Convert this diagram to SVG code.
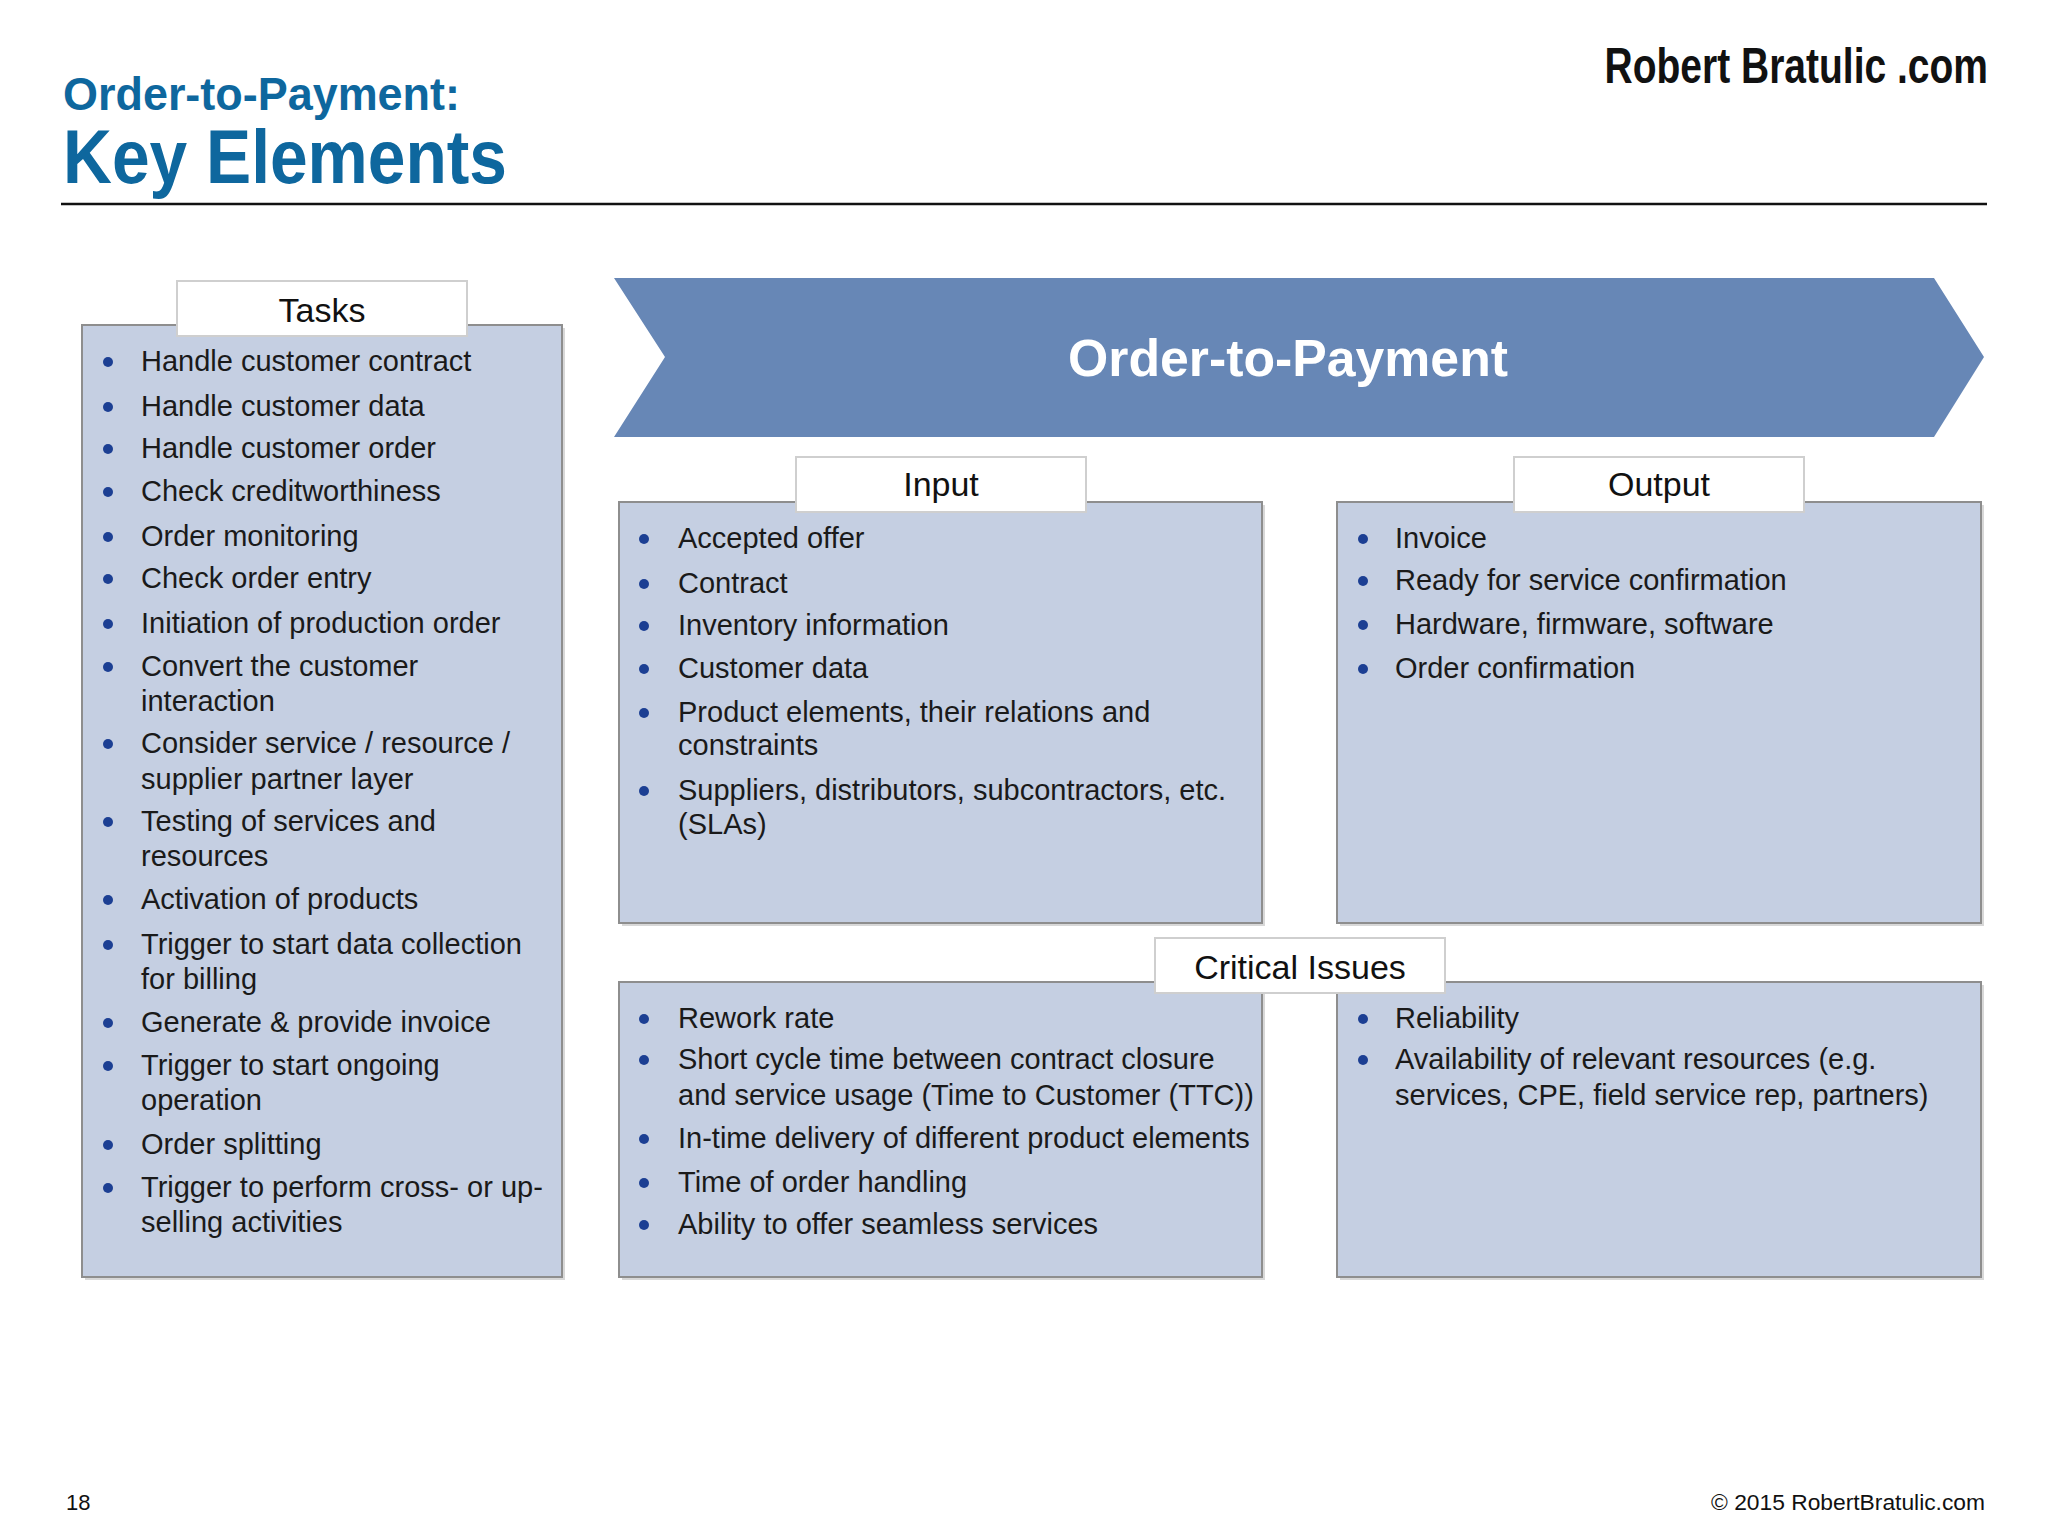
<svg xmlns="http://www.w3.org/2000/svg" width="2048" height="1536" viewBox="0 0 2048 1536">
<defs>
<style>
.t{font-family:"Liberation Sans",Arial,sans-serif;font-size:29px;fill:#1a1a1a}
.lbl{font-family:"Liberation Sans",Arial,sans-serif;font-size:34px;fill:#111;text-anchor:middle}
.box{fill:#c5cfe2;stroke:#8e8e8e;stroke-width:2}
.shadow{fill:#d8d8d8}
.lbox{fill:#ffffff;stroke:#cfcfcf;stroke-width:2}
.b{fill:#1c3f93}
.title{font-family:"Liberation Sans",Arial,sans-serif;font-weight:bold;fill:#0e679e}
</style>
</defs>
<rect width="2048" height="1536" fill="#ffffff"/>

<g id="header">
<text class="title" x="63" y="110" font-size="47" textLength="397" lengthAdjust="spacingAndGlyphs">Order-to-Payment:</text>
<text class="title" x="63" y="183" font-size="76" textLength="444" lengthAdjust="spacingAndGlyphs">Key Elements</text>
<line x1="61" y1="204" x2="1987" y2="204" stroke="#111" stroke-width="2.5"/>
<text transform="translate(1988,83) scale(0.78,1)" x="0" y="0" text-anchor="end" font-family="'Liberation Sans',Arial,sans-serif" font-weight="bold" font-size="50" fill="#111">Robert Bratulic .com</text>
</g>

<g id="banner">
<polygon points="614,278 1934,278 1984,357 1934,437 614,437 665,357" fill="#6787b6"/>
<text x="1288" y="376" text-anchor="middle" font-family="'Liberation Sans',Arial,sans-serif" font-weight="bold" font-size="52" fill="#ffffff" textLength="440" lengthAdjust="spacingAndGlyphs">Order-to-Payment</text>
</g>

<g id="tasks">
<rect class="shadow" x="85" y="328" width="480" height="952"/>
<rect class="box" x="82" y="325" width="480" height="952"/>
<rect class="lbox" x="177" y="281" width="290" height="55"/>
<text class="lbl" x="322" y="322">Tasks</text>
<g>
<circle class="b" cx="108" cy="362" r="5"/><text class="t" x="141" y="371">Handle customer contract</text>
<circle class="b" cx="108" cy="407" r="5"/><text class="t" x="141" y="416">Handle customer data</text>
<circle class="b" cx="108" cy="449" r="5"/><text class="t" x="141" y="458">Handle customer order</text>
<circle class="b" cx="108" cy="492" r="5"/><text class="t" x="141" y="501">Check creditworthiness</text>
<circle class="b" cx="108" cy="537" r="5"/><text class="t" x="141" y="546">Order monitoring</text>
<circle class="b" cx="108" cy="579" r="5"/><text class="t" x="141" y="588">Check order entry</text>
<circle class="b" cx="108" cy="624" r="5"/><text class="t" x="141" y="633">Initiation of production order</text>
<circle class="b" cx="108" cy="667" r="5"/><text class="t" x="141" y="676">Convert the customer</text>
<text class="t" x="141" y="711">interaction</text>
<circle class="b" cx="108" cy="744" r="5"/><text class="t" x="141" y="753">Consider service / resource /</text>
<text class="t" x="141" y="789">supplier partner layer</text>
<circle class="b" cx="108" cy="822" r="5"/><text class="t" x="141" y="831">Testing of services and</text>
<text class="t" x="141" y="866">resources</text>
<circle class="b" cx="108" cy="900" r="5"/><text class="t" x="141" y="909">Activation of products</text>
<circle class="b" cx="108" cy="945" r="5"/><text class="t" x="141" y="954">Trigger to start data collection</text>
<text class="t" x="141" y="989">for billing</text>
<circle class="b" cx="108" cy="1023" r="5"/><text class="t" x="141" y="1032">Generate &amp; provide invoice</text>
<circle class="b" cx="108" cy="1066" r="5"/><text class="t" x="141" y="1075">Trigger to start ongoing</text>
<text class="t" x="141" y="1110">operation</text>
<circle class="b" cx="108" cy="1145" r="5"/><text class="t" x="141" y="1154">Order splitting</text>
<circle class="b" cx="108" cy="1188" r="5"/><text class="t" x="141" y="1197">Trigger to perform cross- or up-</text>
<text class="t" x="141" y="1232">selling activities</text>
</g>
</g>

<g id="input">
<rect class="shadow" x="622" y="505" width="643" height="421"/>
<rect class="box" x="619" y="502" width="643" height="421"/>
<rect class="lbox" x="796" y="457" width="290" height="55"/>
<text class="lbl" x="941" y="496">Input</text>
<circle class="b" cx="644" cy="539" r="5"/><text class="t" x="678" y="548">Accepted offer</text>
<circle class="b" cx="644" cy="584" r="5"/><text class="t" x="678" y="593">Contract</text>
<circle class="b" cx="644" cy="626" r="5"/><text class="t" x="678" y="635">Inventory information</text>
<circle class="b" cx="644" cy="669" r="5"/><text class="t" x="678" y="678">Customer data</text>
<circle class="b" cx="644" cy="713" r="5"/><text class="t" x="678" y="722">Product elements, their relations and</text>
<text class="t" x="678" y="755">constraints</text>
<circle class="b" cx="644" cy="791" r="5"/><text class="t" x="678" y="800">Suppliers, distributors, subcontractors, etc.</text>
<text class="t" x="678" y="834">(SLAs)</text>
</g>

<g id="output">
<rect class="shadow" x="1340" y="505" width="644" height="421"/>
<rect class="box" x="1337" y="502" width="644" height="421"/>
<rect class="lbox" x="1514" y="457" width="290" height="55"/>
<text class="lbl" x="1659" y="496">Output</text>
<circle class="b" cx="1363" cy="539" r="5"/><text class="t" x="1395" y="548">Invoice</text>
<circle class="b" cx="1363" cy="581" r="5"/><text class="t" x="1395" y="590">Ready for service confirmation</text>
<circle class="b" cx="1363" cy="625" r="5"/><text class="t" x="1395" y="634">Hardware, firmware, software</text>
<circle class="b" cx="1363" cy="669" r="5"/><text class="t" x="1395" y="678">Order confirmation</text>
</g>

<g id="critical-left">
<rect class="shadow" x="622" y="985" width="643" height="295"/>
<rect class="box" x="619" y="982" width="643" height="295"/>
<circle class="b" cx="644" cy="1019" r="5"/><text class="t" x="678" y="1028">Rework rate</text>
<circle class="b" cx="644" cy="1060" r="5"/><text class="t" x="678" y="1069">Short cycle time between contract closure</text>
<text class="t" x="678" y="1105">and service usage (Time to Customer (TTC))</text>
<circle class="b" cx="644" cy="1139" r="5"/><text class="t" x="678" y="1148">In-time delivery of different product elements</text>
<circle class="b" cx="644" cy="1183" r="5"/><text class="t" x="678" y="1192">Time of order handling</text>
<circle class="b" cx="644" cy="1225" r="5"/><text class="t" x="678" y="1234">Ability to offer seamless services</text>
</g>

<g id="critical-right">
<rect class="shadow" x="1340" y="985" width="644" height="295"/>
<rect class="box" x="1337" y="982" width="644" height="295"/>
<circle class="b" cx="1363" cy="1019" r="5"/><text class="t" x="1395" y="1028">Reliability</text>
<circle class="b" cx="1363" cy="1060" r="5"/><text class="t" x="1395" y="1069">Availability of relevant resources (e.g.</text>
<text class="t" x="1395" y="1105">services, CPE, field service rep, partners)</text>
</g>

<g id="critical-label">
<rect class="lbox" x="1155" y="938" width="290" height="55"/>
<text class="lbl" x="1300" y="979">Critical Issues</text>
</g>

<g id="connectors"/>

<g id="footer">
<text x="66" y="1510" font-family="'Liberation Sans',Arial,sans-serif" font-size="22" fill="#111">18</text>
<text x="1985" y="1510" text-anchor="end" font-family="'Liberation Sans',Arial,sans-serif" font-size="22" fill="#111" textLength="274" lengthAdjust="spacingAndGlyphs">© 2015 RobertBratulic.com</text>
</g>
</svg>
